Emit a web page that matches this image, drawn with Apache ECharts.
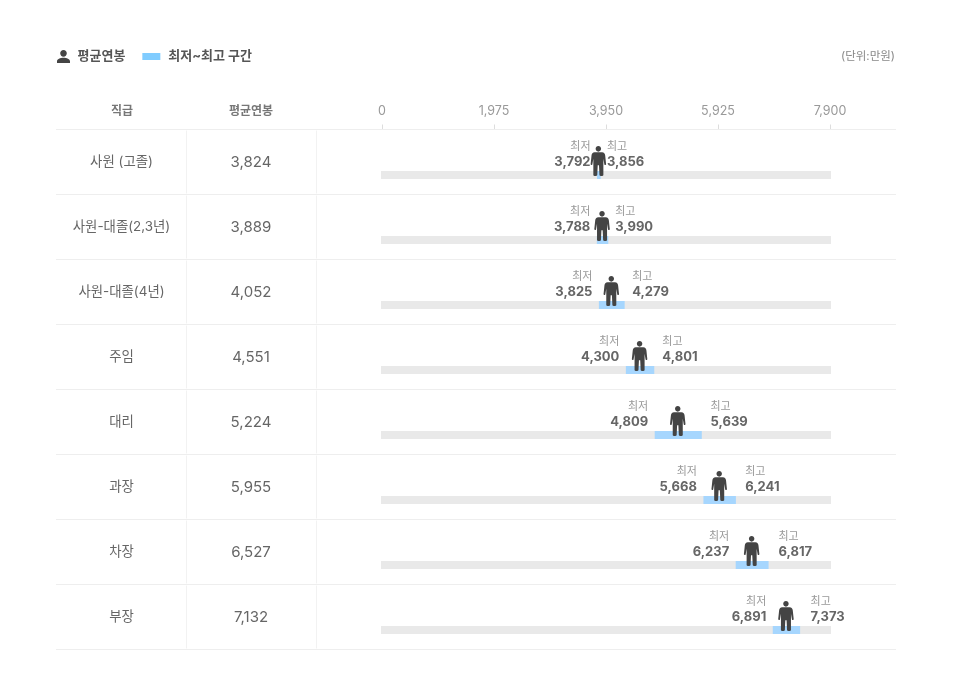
<!DOCTYPE html>
<html><head><meta charset="utf-8">
<script src="https://cdn.jsdelivr.net/npm/echarts@6/dist/echarts.min.js"></script>
<style>html,body{margin:0;padding:0;background:#fff}#c{width:954px;height:699px}</style></head>
<body><div id="c"></div>
<script>
const ranks = ['사원 (고졸)','사원-대졸(2,3년)','사원-대졸(4년)','주임','대리','과장','차장','부장'];
const avgPay = [3824,3889,4052,4551,5224,5955,6527,7132];
const minPay = [3792,3788,3825,4300,4809,5668,6237,6891];
const maxPay = [3856,3990,4279,4801,5639,6241,6817,7373];
const axisMax = 7900;
const axisStep = 1975;
const legendNames = ['평균연봉','최저~최고 구간'];
const headers = ['직급','평균연봉'];
const unitText = '(단위:만원)';

const FONT = 'Inter, "Noto Sans CJK KR", sans-serif';
const fmt = v => v.toLocaleString('en-US');
const PERSON = 'path://M8.5,0C10.2,0 11.5,1.3 11.5,3C11.5,4.7 10.2,6 8.5,6C6.8,6 5.5,4.7 5.5,3C5.5,1.3 6.8,0 8.5,0Z' +
 'M4.5,6.6H12.5C14.8,6.6 15.8,8 16,10L17,19.5C17,20.5 15.4,20.8 15.1,19.7L14,13.5V30.8C14,32.4 9.8,32.4 9.7,30.8L9.2,20.5H7.8L7.3,30.8C7.2,32.4 3,32.4 3,30.8V13.5L1.9,19.7C1.6,20.8 0,20.5 0,19.5L1,10C1.2,8 2.2,6.6 4.5,6.6Z';
const BUST = 'path://M6.5,0C8.4,0 9.8,1.5 9.8,3.3C9.8,5.2 8.4,6.7 6.5,6.7C4.6,6.7 3.2,5.2 3.2,3.3C3.2,1.5 4.6,0 6.5,0ZM0,13V11.2C0,9 3.2,7.7 6.5,7.7C9.8,7.7 13,9 13,11.2V13Z';
const RECT = 'path://M0,0H18V7H0Z';

const chart = echarts.init(document.getElementById('c'));
chart.setOption({
  animation: false,
  backgroundColor: '#fff',
  textStyle: { fontFamily: FONT },
  grid: { left: 382, width: 448, top: 129.5, height: 520 },
  legend: {
    left: 52, top: 45, itemWidth: 18, itemHeight: 13, itemGap: 17, selectedMode: false,
    textStyle: { fontFamily: FONT, fontSize: 13, fontWeight: 'bold', color: '#555' },
    data: [
      { name: legendNames[0], icon: BUST },
      { name: legendNames[1], icon: RECT, textStyle: { padding: [0, 0, 0, 3] } }
    ]
  },
  xAxis: {
    type: 'value', position: 'top', min: 0, max: axisMax, interval: axisStep,
    axisLine: { show: false },
    axisTick: { show: true, length: 5, lineStyle: { color: '#ddd' } },
    splitLine: { show: false },
    axisLabel: { color: '#999', fontSize: 12.5, margin: 12, fontFamily: FONT, formatter: v => fmt(v) }
  },
  yAxis: [
    { type: 'category', inverse: true, data: ranks, position: 'left',
      axisLine: { show: false }, axisTick: { show: false },
      axisLabel: { align: 'center', margin: 260.5, color: '#666', fontSize: 13.4, fontFamily: FONT, padding: [0, 0, 1, 0] } },
    { type: 'category', inverse: true, data: avgPay.map(fmt), position: 'left',
      axisLine: { show: false }, axisTick: { show: false },
      axisLabel: { align: 'center', margin: 131, color: '#666', fontSize: 15, fontFamily: FONT, padding: [0, 0, 3, 0] } }
  ],
  graphic: [
    { type: 'text', left: 122 - 11, top: 105, style: { text: headers[0], fill: '#777', font: 'bold 12px ' + FONT } },
    { type: 'text', left: 252 - 23, top: 105, style: { text: headers[1], fill: '#777', font: 'bold 12px ' + FONT } },
    { type: 'text', right: 59, top: 51, style: { text: unitText, fill: '#888', font: '11.5px ' + FONT } }
  ],
  series: [
    {
      type: 'custom', name: legendNames[1], z: 2, clip: false, silent: true,
      itemStyle: { color: '#80ccff' },
      data: ranks.map((r, i) => [minPay[i], i, maxPay[i]]),
      encode: { x: [0, 2], y: 1 },
      renderItem(params, api) {
        const i = params.dataIndex;
        const y = api.coord([0, api.value(1)])[1];
        const x0 = api.coord([0, api.value(1)])[0];
        const xE = api.coord([axisMax, api.value(1)])[0];
        const a = api.coord([api.value(0), api.value(1)])[0];
        const b = api.coord([api.value(2), api.value(1)])[0];
        const band = api.size([0, 1])[1];
        const top = y - band / 2, bot = y + band / 2;
        const line = (x1, y1, x2, y2, c) => ({ type: 'line', shape: { x1, y1, x2, y2 }, style: { stroke: c, lineWidth: 1 } });
        const rx = b + 6.3 + 0.6 * i;
        const lx = a - 6.5;
        const kids = [
          line(56, bot, 896, bot, '#eeeeee'),
          line(186.5, top + 1, 186.5, bot - 1, '#f2f2f2'),
          line(316.5, top + 1, 316.5, bot - 1, '#f2f2f2'),
          { type: 'rect', shape: { x: x0 - 1, y: y + 9, width: xE - x0 + 2, height: 8 }, style: { fill: '#e9e9e9' } },
          { type: 'rect', shape: { x: a, y: y + 9, width: b - a, height: 8 }, style: { fill: '#a6d6fe' } },
          { type: 'text', style: { x: lx, y: y - 15.5, text: '최저', align: 'right', verticalAlign: 'middle', fill: '#999', font: '11px ' + FONT } },
          { type: 'text', style: { x: lx, y: y, text: fmt(api.value(0)), align: 'right', verticalAlign: 'middle', fill: '#666', font: 'bold 13px ' + FONT } },
          { type: 'text', style: { x: rx, y: y - 15.5, text: '최고', align: 'left', verticalAlign: 'middle', fill: '#999', font: '11px ' + FONT } },
          { type: 'text', style: { x: rx, y: y, text: fmt(api.value(2)), align: 'left', verticalAlign: 'middle', fill: '#666', font: 'bold 13px ' + FONT } }
        ];
        if (i === 0) kids.unshift(line(56, top, 896, top, '#eeeeee'));
        return { type: 'group', children: kids };
      }
    },
    {
      type: 'scatter', name: legendNames[0], z: 3, silent: true,
      symbol: PERSON, symbolSize: [15.5, 30], symbolOffset: [-0.5, -1], symbolKeepAspect: false,
      itemStyle: { color: '#444', opacity: 1 },
      data: ranks.map((r, i) => [avgPay[i], i])
    }
  ]
});
</script></body></html>
